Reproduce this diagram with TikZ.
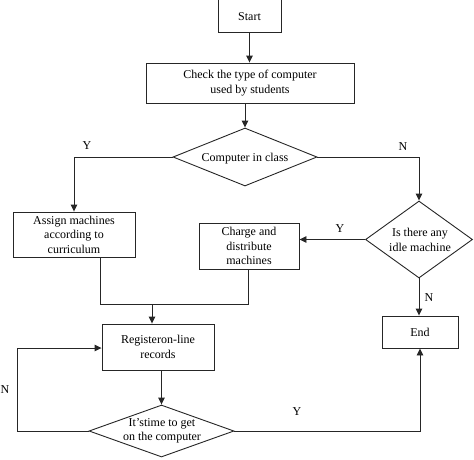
\documentclass[tikz,border=0pt]{standalone}
\usepackage{fontspec}
\setmainfont{Liberation Serif}
\usetikzlibrary{arrows.meta,shapes.geometric}
\begin{document}
\begin{tikzpicture}[x=1pt,y=-1pt,
  every node/.style={font=\fontsize{12}{14.5}\selectfont, text=black},
  box/.style={draw=black!85, line width=0.9pt, rectangle, inner sep=0pt, align=center},
  dia/.style={draw=black!85, line width=0.9pt, diamond, inner sep=0pt},
  line/.style={draw=black!85, line width=0.9pt},
  arr/.style={line, -{Triangle[length=7pt,width=6.5pt]}},
  lab/.style={inner sep=0pt}]
\useasboundingbox (0,0) rectangle (474,459);
\node[box, minimum width=63, minimum height=35] (start) at (249.5,14.5) {};
\node at (249.5,17) {Start};
\node[box, minimum width=208, minimum height=40] (check) at (250,83) {Check the type of computer\\used by students};
\node[dia, minimum width=144, minimum height=58] (d1) at (245,157) {};
\node at (245,159) {Computer in class};
\node[box, minimum width=122, minimum height=45] (assign) at (74,234.5) {Assign machines\\according to\\curriculum};
\node[box, minimum width=100, minimum height=46] (charge) at (249,246) {Charge and\\distribute\\machines};
\node[dia, minimum width=107, minimum height=77] (d2) at (419,239.5) {};
\node[align=center] at (420,240) {Is there any\\idle machine};
\node[box, minimum width=112, minimum height=46] (reg) at (158,347) {Registeron-line\\records};
\node[box, minimum width=76, minimum height=32] (end) at (420,332) {End};
\node[dia, minimum width=145, minimum height=52] (d3) at (161.5,431) {};
\node[align=center] at (162,431) {It’stime to get\\on the computer};
\coordinate (mergeL) at (100,304);
\coordinate (mergeR) at (248,304);
\coordinate (merge) at (152,304);
\coordinate (loopc) at (17,348);
\draw[arr] (start.south) -- (start.south |- check.north);
\draw[arr] (d1.north |- check.south) -- (d1.north);
\draw[arr] (d1.west) -| (assign.north);
\draw[arr] (d1.east) -| (d2.north);
\draw[arr] (d2.west) -- (d2.west -| charge.east);
\draw[arr] (d2.south) -- (d2.south |- end.north);
\draw[line] (mergeL |- assign.south) -- (mergeL) -- (mergeR) -- (mergeR |- charge.south);
\draw[arr] (merge) -- (merge |- reg.north);
\draw[arr] (d3.north |- reg.south) -- (d3.north);
\draw[arr] (d3.west) -- (loopc |- d3.west) -- (loopc) -- (loopc -| reg.west);
\draw[arr] (d3.east) -| (end.south);
\node[lab] at (87,146) {Y};
\node[lab] at (403,147) {N};
\node[lab] at (340,229) {Y};
\node[lab] at (429,298) {N};
\node[lab] at (5,390) {N};
\node[lab] at (297,412) {Y};
\end{tikzpicture}
\end{document}
